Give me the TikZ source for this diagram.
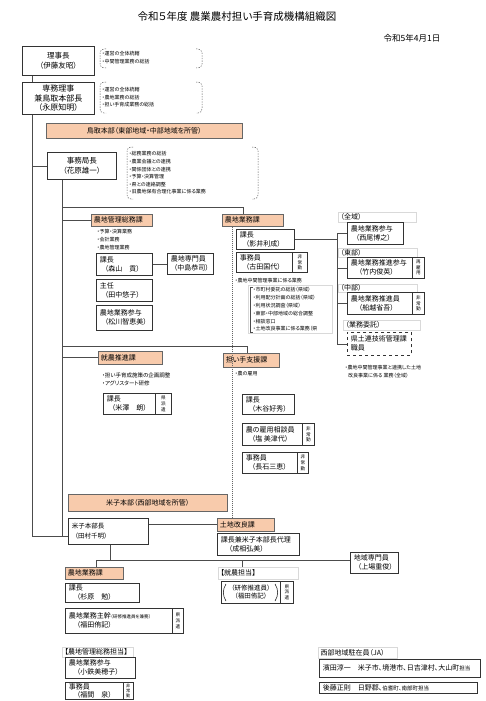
\documentclass[tikz,border=0pt]{standalone}
\usepackage{fontspec}
\setmainfont{Noto Sans CJK JP}[RawFeature={+palt}]
\definecolor{orfill}{RGB}{248,203,172}
\tikzset{
 lnst/.style={draw=black!70, line width=0.6pt},
 dotst/.style={draw=black!60, line width=0.5pt, dash pattern=on 0.8pt off 1.2pt},
 dbrst/.style={draw=black!65, line width=0.5pt, dash pattern=on 1.3pt off 1.3pt, rounded corners=4pt},
 bxst/.style={draw=black!80, line width=0.6pt, fill=white, inner sep=0pt, anchor=north west, font=\fontsize{7}{9}\selectfont},
 orbst/.style={draw=black!60, fill=orfill, line width=0.5pt, inner sep=0pt, anchor=north west, font=\fontsize{7}{8}\selectfont},
 lblst/.style={draw=black!15, line width=0.4pt, inner sep=0pt, anchor=north west, font=\fontsize{7}{8}\selectfont},
 sidest/.style={draw=black!80, line width=0.6pt, inner sep=0pt, anchor=north west, font=\fontsize{4.6}{5.6}\selectfont, align=center},
 smtst/.style={inner sep=0pt, anchor=west, align=left, font=\fontsize{5}{7.6}\selectfont},
}
\newcommand\mybxl[7][]{\node[bxst,#1,minimum width=#4pt,minimum height=#5pt] (#6) at (#2,#3) {\parbox{\dimexpr#4pt-7pt\relax}{\raggedright #7}};}
\newcommand\mybxc[7][]{\node[bxst,#1,minimum width=#4pt,minimum height=#5pt,align=center] (#6) at (#2,#3) {#7};}
\newcommand\mysc[7][]{\node[sidest,#1,minimum width=#4pt,minimum height=#5pt] (#6) at (#2,#3) {#7};}
\newcommand\myob[7][]{\node[orbst,#1,minimum width=#4pt,minimum height=#5pt] (#6) at (#2,#3) {\parbox{\dimexpr#4pt-5pt\relax}{\raggedright #7}};}
\newcommand\mylbl[6]{\node[lblst,minimum width=#3pt,minimum height=#4pt] (#5) at (#1,#2) {\parbox{\dimexpr#3pt-5pt\relax}{\raggedright #6}};}
\newcommand\mydb[4]{\draw[dbrst] (#1+6,#2) -- (#1,#2) -- (#1,#4) -- (#1+6,#4); \draw[dbrst] (#3-6,#2) -- (#3,#2) -- (#3,#4) -- (#3-6,#4);}
\begin{document}
\begin{tikzpicture}[x=1pt,y=-1pt]
\useasboundingbox (0,0) rectangle (485,701);
% titles
\node[font=\fontsize{10.5}{12}\selectfont] (title) at (237,17) {令和５年度\ 農業農村担い手育成機構組織図};
\node[font=\fontsize{8.5}{10}\selectfont] (date) at (412,38) {令和5年4月1日};
% top
\mybxc[font=\fontsize{7.5}{10.5}\selectfont]{22}{46}{72}{29}{rj}{理事長\\（伊藤友昭）}
\mybxc[font=\fontsize{8}{9.5}\selectfont]{22}{82}{72}{32}{smj}{専務理事\\兼鳥取本部長\\（永原知明）}
\mybxc[font=\fontsize{7.5}{9.5}\selectfont]{47}{152}{69}{27}{jk}{事務局長\\（花原雄一）}
\mydb{100}{49}{202}{68}
\mydb{100}{82}{202}{113}
\mydb{127}{147}{258}{199}
\node[smtst, font=\fontsize{5}{8}\selectfont] (d1) at (102,58) {・運営の全体統轄\\・中間管理業務の総括};
\node[smtst, font=\fontsize{5}{7.5}\selectfont] (d2) at (102,97.5) {・運営の全体統轄\\・農地業務の総括\\・担い手育成業務の総括};
\node[smtst] (d3) at (129,173) {・総務業務の総括\\・農業会議との連携\\・関係団体との連携\\・予算・決算管理\\・県との連絡調整\\・旧農地保有合理化事業に係る業務};
% orange bars
\node[orbst, minimum width=196pt, minimum height=15pt] (tb) at (46,123) {鳥取本部（東部地域・中部地域を所管）};
\node[orbst, minimum width=159pt, minimum height=17pt] (yb) at (68,494) {米子本部（西部地域を所管）};
\myob{91}{214}{61}{12}{nk}{農地管理総務課}
\myob{222}{214}{61}{12}{ng}{農地業務課}
\myob{98}{351}{64}{13}{sn}{就農推進課}
\myob{223}{353}{56}{14}{ns}{担い手支援課}
\myob{217}{518}{57}{13}{td}{土地改良課}
\myob{65}{567}{58}{12}{yg}{農地業務課}
% 農地管理総務課
\node[smtst, font=\fontsize{5}{8}\selectfont] (nkt) at (97,240) {・予算・決算業務\\・会計業務\\・農地管理業務};
\mybxl{96}{253}{56}{22}{k1}{課長\\\hspace*{5pt}（森山　貢）}
\mybxl{167}{253}{46}{21}{sm1}{農地専門員\\\hspace*{3pt}（中島恭司）}
\mybxl{96}{279}{56}{22}{sy}{主任\\\hspace*{5pt}（田中悠子）}
\mybxl{96}{305}{56}{25}{sy2}{農地業務参与\\\hspace*{5pt}（松川智恵美）}
% 農地業務課
\mybxl{236}{229}{58}{20}{kg}{課長\\\hspace*{6pt}（影井利成）}
\mybxl{236}{252}{56}{20}{jm}{事務員\\\hspace*{6pt}（古田国代）}
\mysc{292}{252}{15}{20}{jms}{非\\常\\勤}
\node[smtst] (ngt) at (235,281) {・農地中間管理事業に係る業務};
\draw[draw=black!15, line width=0.4pt] (248,285) rectangle (332,333);
\draw[lnst, line width=0.5pt] (253,287) -- (250,287) -- (250,332) -- (253,332);
\node[smtst, font=\fontsize{5}{7.8}\selectfont] (lst) at (253,309.5) {・市町村委託の総括（県域）\\・利用配分計画の総括（県域）\\・利用状況調査（県域）\\・東部・中部地域の総合調整\\・相談窓口\\・土地改良事業に係る業務（県};
\mylbl{338}{212}{78}{10}{l1}{（全域）}
\mybxl{347}{222}{56}{22}{ni}{農地業務参与\\\hspace*{5pt}（西尾博之）}
\mylbl{338}{248}{79}{9}{l2}{（東部）}
\mybxl{347}{257}{65}{21}{tk}{農地業務推進参与\\\hspace*{8pt}（竹内俊英）}
\mysc{412}{257}{12}{21}{tks}{再\\雇\\用}
\mylbl{338}{284}{79}{8}{l3}{（中部）}
\mybxl{347}{292}{65}{22}{fn}{農地業務推進員\\\hspace*{8pt}（船越省吾）}
\mysc{412}{292}{12}{22}{fns}{非\\常\\勤}
\mylbl{343}{320}{77}{10}{l4}{（業務委託）}
\mybxl[dashed]{347}{332}{64}{23}{kd}{県土連技術管理課\\職員}
\node[smtst] (rt) at (345,371.5) {・農地中間管理事業と連携した土地\\\hspace*{3pt}改良事業に係る 業務（全域）};
% 就農推進課
\node[smtst, font=\fontsize{5.5}{8}\selectfont] (snt) at (102,379) {・担い手育成施策の企画調整\\・アグリスタート研修};
\mybxl{103}{393}{52}{21}{ky}{課長\\\hspace*{5pt}（米澤　朗）}
\mysc{155}{393}{16}{21}{kys}{県\\派\\遣}
% 担い手支援課
\node[smtst] (nst) at (235,374) {・農の雇用};
\mybxl{242}{394}{52}{20}{kt}{課長\\\hspace*{6pt}（木谷好秀）}
\mybxl{242}{423}{60}{22}{nk2}{農の雇用相談員\\\hspace*{6pt}（塩 美津代）}
\mysc{302}{423}{12}{22}{nk2s}{非\\常\\勤}
\mybxl{242}{452}{55}{21}{jn}{事務員\\\hspace*{6pt}（長石三恵）}
\mysc{297}{452}{11}{21}{jns}{非\\常\\勤}
% 米子
\mybxl[font=\fontsize{6.5}{10}\selectfont]{68}{518}{80}{26}{ybc}{米子本部長\\\hspace*{3pt}（田村千明）}
\mybxl{217}{533}{82}{22}{tdk}{課長兼米子本部長代理\\\hspace*{8pt}（成相弘美）}
\mybxl{350}{552}{48}{21}{cs}{地域専門員\\\hspace*{4pt}（上場重俊）}
\mybxl{65}{583}{74}{19}{yk}{課長\\\hspace*{8pt}（杉原　勉）}
\mybxl{65}{608}{107}{25}{sk}{農地業務主幹{\fontsize{4.5}{5}\selectfont（研修推進員を兼務）}\\\hspace*{8pt}（福田侑記）}
\mysc{172}{608}{11}{25}{sks}{県\\派\\遣}
\mylbl{218}{567}{80}{12}{shl}{【就農担当】}
\mybxc[font=\fontsize{6.5}{8}\selectfont]{221}{581}{59}{22}{ks}{（研修推進員）\\（福田侑記）}
\draw[line width=0.5pt] (226,584) .. controls (222.5,589) and (222.5,596) .. (226,601);
\draw[line width=0.5pt] (275,584) .. controls (278.5,589) and (278.5,596) .. (275,601);
\mysc{280}{581}{13}{22}{kss}{県\\派\\遣}
\mylbl{62}{647}{71}{10}{kl}{【農地管理総務担当】}
\mybxl{65}{657}{70}{21}{ko}{農地業務参与\\\hspace*{8pt}（小鉄美穂子）}
\mybxl[font=\fontsize{7}{8}\selectfont]{65}{682}{58}{17}{fm}{事務員\\\hspace*{8pt}（福間　泉）}
\mysc[font=\fontsize{4.2}{5}\selectfont]{123}{682}{10}{17}{fms}{非\\常\\勤}
\mylbl{318}{647}{79}{11}{jal}{西部地域駐在員（JA）}
\mybxl{319}{659}{161}{18}{ha}{濱田淳一　米子市、境港市、日吉津村、大山町{\fontsize{5.5}{6}\selectfont 担当}}
\mybxl{319}{682}{158}{11}{go}{後藤正則　日野郡、{\fontsize{5.5}{6}\selectfont 伯耆町、南部町担当}}
% coordinates
\coordinate (a) at (32,0);
\coordinate (b) at (62,0);
\coordinate (yj) at (32,536);
\coordinate (j1) at (62,207);
\coordinate (j1e) at (243,207);
\coordinate (j3) at (62,346);
\coordinate (j3e) at (247,346);
\coordinate (dx) at (232,300);
\coordinate (vx) at (337,0);
\coordinate (yv) at (110,560);
\coordinate (hl) at (96,560);
\coordinate (hm) at (242,560);
% connectors
\draw[lnst] (rj.south -| a) -- (smj.north -| a);
\draw[lnst] (smj.south -| a) -- (yj) -- (yj -| ybc.west);
\draw[lnst] (a |- jk.west) -- (jk.west);
\draw[lnst] (jk.south -| b) -- (b |- yj);
\draw[lnst] (j1) -- (j1e) -- (j1e |- ng.north);
\draw[lnst] (b |- nk.west) -- (nk.west);
\draw[lnst] (j3) -- (j3e) -- (j3e |- ns.north);
\draw[lnst] (b |- sn.west) -- (sn.west);
\draw[lnst] (sm1.west -| k1.east) -- (sm1.west);
\draw[dotst] (ng.south -| dx) -- (td.north -| dx);
\draw[lnst] (kg.east) -- (kg.east -| vx);
\draw[lnst] (ni.west -| vx) -- (kd.west -| vx);
\draw[lnst] (ni.west -| vx) -- (ni.west);
\draw[lnst] (tk.west -| vx) -- (tk.west);
\draw[lnst] (fn.west -| vx) -- (fn.west);
\draw[lnst] (kd.west -| vx) -- (kd.west);
\draw[lnst] (td.west -| ybc.east) -- (td.west);
\draw[lnst] (ybc.south -| yv) -- (yv);
\draw[lnst] (hl) -- (hl -| cs.west);
\draw[lnst] (hl) -- (hl |- yg.north);
\draw[lnst] (hm) -- (hm |- shl.north);
\end{tikzpicture}
\end{document}
